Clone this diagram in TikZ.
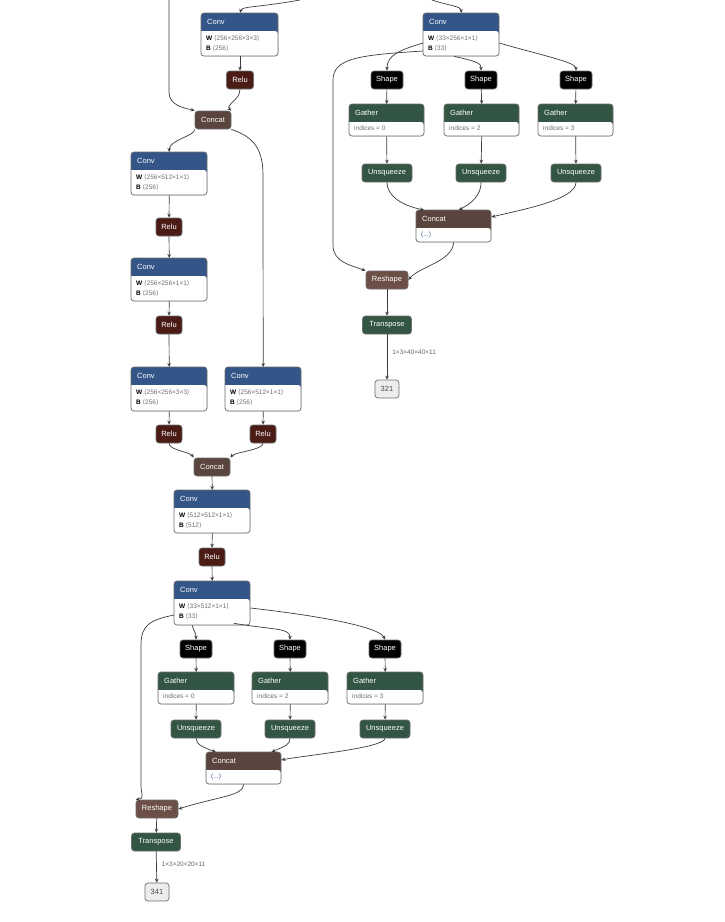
\documentclass[tikz,border=0pt]{standalone}
\usepackage{fontspec}
\setmainfont{Liberation Sans}
\newfontfamily\dvs{DejaVu Sans}
\usetikzlibrary{arrows.meta,calc}
\definecolor{cconv}{RGB}{51,85,136}
\definecolor{crelu}{RGB}{75,27,22}
\definecolor{ccat}{RGB}{90,68,62}
\definecolor{cresh}{RGB}{108,79,71}
\definecolor{cgreen}{RGB}{51,85,68}
\definecolor{cedge}{RGB}{60,60,60}
\definecolor{cdim}{RGB}{110,110,110}
\newcommand\angl[1]{\textcolor{cdim}{{\dvs⟨}#1{\dvs⟩}}}
% name x1 y1 x2 ymid y2 color title body
\newcommand\bignode[9]{%
  \fill[#7,rounded corners=3pt] (#2,#3) rectangle (#4,#6);
  \fill[white,rounded corners=3pt] (#2,#5) -- (#2,#6) -- (#4,#6) -- (#4,#5) [sharp corners] -- cycle;
  \draw[draw=cdim,line width=0.7pt,rounded corners=3pt] (#2,#3) rectangle (#4,#6);
  \node[inner sep=0pt,minimum width={#4-#2},minimum height={#6-#3},anchor=north west] (#1) at (#2,#3) {};
  \node[anchor=west,text=white,font=\fontsize{7.5}{9}\selectfont,inner sep=0pt] (#1t) at ({#2+6},{(#3+#5)/2}) {#8};
  \node[anchor=north west,align=left,font=\fontsize{6.5}{10}\selectfont,inner sep=0pt] (#1b) at ({#2+5},{#5+4}) {#9};
}
\newcommand\convbody[2]{\textbf{W}\ \angl{#1}\\\textbf{B}\ \angl{#2}}
\tikzset{
  op/.style={rounded corners=3pt,draw=cdim,line width=0.7pt,text=white,minimum height=18pt,inner sep=0pt,font=\fontsize{7.5}{9}\selectfont},
  outn/.style={rounded corners=3pt,draw=cdim,line width=0.7pt,fill=black!7,text=black!70,minimum height=18pt,minimum width=24pt,inner sep=0pt,font=\fontsize{7.5}{9}\selectfont},
  e/.style={draw=cedge,line width=0.7pt,-{Stealth[length=4pt,width=3.5pt]}},
  lbl/.style={font=\fontsize{6.5}{8}\selectfont,text=black!60,anchor=west,inner sep=0pt}
}
\begin{document}
\begin{tikzpicture}[x=1pt,y=-1pt]
\useasboundingbox[fill=white] (0,0) rectangle (725,922);
% ---- left column
\bignode{cA}{201}{13}{278}{31}{56}{cconv}{Conv}{\convbody{256×256×3×3}{256}}
\node[op,fill=crelu,minimum width=27pt] (r1) at (240,80) {Relu};
\node[op,fill=ccat,minimum width=36pt] (k1) at (213,120) {Concat};
\bignode{c2}{131}{152}{207}{170}{195}{cconv}{Conv}{\convbody{256×512×1×1}{256}}
\node[op,fill=crelu,minimum width=26pt] (r2) at (169,227) {Relu};
\bignode{c3}{131}{258}{207}{276}{301}{cconv}{Conv}{\convbody{256×256×1×1}{256}}
\node[op,fill=crelu,minimum width=26pt] (r3) at (169,325) {Relu};
\bignode{c4}{131}{367}{207}{385}{411}{cconv}{Conv}{\convbody{256×256×3×3}{256}}
\bignode{c5}{225}{367}{301}{385}{411}{cconv}{Conv}{\convbody{256×512×1×1}{256}}
\node[op,fill=crelu,minimum width=26pt] (r4) at (169,434) {Relu};
\node[op,fill=crelu,minimum width=26pt] (r5) at (263,434) {Relu};
\node[op,fill=ccat,minimum width=36pt] (k2) at (212,467) {Concat};
\bignode{c6}{174}{490}{250}{508}{533}{cconv}{Conv}{\convbody{512×512×1×1}{512}}
\node[op,fill=crelu,minimum width=26pt] (r6) at (212,557) {Relu};
\bignode{c7}{174}{581}{250}{599}{625}{cconv}{Conv}{\convbody{33×512×1×1}{33}}
\node[op,fill=black,minimum width=32pt] (s1) at (196,649) {Shape};
\node[op,fill=black,minimum width=32pt] (s2) at (290,649) {Shape};
\node[op,fill=black,minimum width=32pt] (s3) at (385,649) {Shape};
\bignode{g1}{158}{672}{234}{690}{704}{cgreen}{Gather}{\textcolor{cdim}{indices = 0}}
\bignode{g2}{252}{672}{328}{690}{704}{cgreen}{Gather}{\textcolor{cdim}{indices = 2}}
\bignode{g3}{347}{672}{423}{690}{704}{cgreen}{Gather}{\textcolor{cdim}{indices = 3}}
\node[op,fill=cgreen,minimum width=50pt] (u1) at (196,729) {Unsqueeze};
\node[op,fill=cgreen,minimum width=50pt] (u2) at (290,729) {Unsqueeze};
\node[op,fill=cgreen,minimum width=50pt] (u3) at (385,729) {Unsqueeze};
\bignode{k3}{206}{752}{281}{770}{784}{ccat}{Concat}{\textcolor{cconv}{(...)}}
\node[op,fill=cresh,minimum width=42pt] (rs1) at (157,809) {Reshape};
\node[op,fill=cgreen,minimum width=49pt] (t1) at (156,842) {Transpose};
\node[outn] (o1) at (157,892) {341};
% ---- right column
\bignode{cR}{423}{13}{499}{31}{56}{cconv}{Conv}{\convbody{33×256×1×1}{33}}
\node[op,fill=black,minimum width=32pt] (sr1) at (387,80) {Shape};
\node[op,fill=black,minimum width=32pt] (sr2) at (481,80) {Shape};
\node[op,fill=black,minimum width=32pt] (sr3) at (576,80) {Shape};
\bignode{gr1}{349}{104}{424}{122}{136}{cgreen}{Gather}{\textcolor{cdim}{indices = 0}}
\bignode{gr2}{444}{104}{519}{122}{136}{cgreen}{Gather}{\textcolor{cdim}{indices = 2}}
\bignode{gr3}{538}{104}{613}{122}{136}{cgreen}{Gather}{\textcolor{cdim}{indices = 3}}
\node[op,fill=cgreen,minimum width=50pt] (ur1) at (387,173) {Unsqueeze};
\node[op,fill=cgreen,minimum width=50pt] (ur2) at (481,173) {Unsqueeze};
\node[op,fill=cgreen,minimum width=50pt] (ur3) at (576,173) {Unsqueeze};
\bignode{kR}{416}{210}{491}{228}{242}{ccat}{Concat}{\textcolor{cconv}{(...)}}
\node[op,fill=cresh,minimum width=42pt] (rs2) at (387,280) {Reshape};
\node[op,fill=cgreen,minimum width=49pt] (t2) at (387,325) {Transpose};
\node[outn] (o2) at (387,389) {321};
% ---- free ends
\coordinate (inA) at (169,0);
\coordinate (inB) at (300,0);
\coordinate (inC) at (432,0);
% ---- edges left
\draw[e] (inB) .. controls (255,8) and (242,6) .. (cA.north -| r1);
\draw[e] (inA) -- (169,92) .. controls (169,106) and (185,108) .. (k1.north west);
\draw[e] (cA.south -| r1) -- (r1);
\draw[e] (r1.south) .. controls (240,100) and (225,105) .. (k1.north east);
\draw[e] (k1.south west) .. controls (195,136) and (169,140) .. (c2.north);
\draw[e] (k1.south east) .. controls (250,136) and (263,145) .. (263,175) -- (c5.north);
\draw[e] (c2.south) -- (r2);
\draw[e] (r2) -- (c3.north);
\draw[e] (c3.south) -- (r3);
\draw[e] (r3) -- (c4.north);
\draw[e] (c4.south) -- (r4);
\draw[e] (c5.south) -- (r5);
\draw[e] (r4.south) .. controls (169,450) and (190,452) .. (k2.north west);
\draw[e] (r5.south) .. controls (263,450) and (235,452) .. (k2.north east);
\draw[e] (k2) -- (c6.north);
\draw[e] (c6.south) -- (r6);
\draw[e] (r6) -- (c7.north);
\draw[e] ($(c7.south)+(-20,0)$) .. controls (193,630) and (196,632) .. (s1.north);
\draw[e] ($(c7.south)+(22,-2)$) .. controls (275,630) and (290,628) .. (s2.north);
\draw[e] ($(c7.north east)+(0,27)$) .. controls (330,617) and (380,628) .. (s3.north);
\draw[e] ($(c7.north west)+(0,34)$) .. controls (150,620) and (141,625) .. (141,645) -- (141,785) .. controls (141,795) and (145,798) .. (rs1.north west);
\foreach \i in {1,2,3}{\draw[e] (s\i) -- (g\i.north); \draw[e] (g\i.south) -- (u\i);}
\draw[e] (u1.south) .. controls (196,745) and (205,748) .. ($(k3.north west)+(10,0)$);
\draw[e] (u2.south) .. controls (290,745) and (285,746) .. ($(k3.north east)+(-10,0)$);
\draw[e] (u3.south) .. controls (385,748) and (300,756) .. ($(k3.north east)+(0,8)$);
\draw[e] ($(k3.south)+(0,0)$) .. controls (243,796) and (220,796) .. (rs1.east);
\draw[e] (rs1) -- (t1);
\draw[e] (t1) -- (o1) node[lbl,pos=0.4,xshift=5pt] {1×3×20×20×11};
% ---- edges right
\draw[e] (inC) .. controls (450,6) and (461,6) .. (cR.north);
\draw[e] ($(cR.north west)+(0,30)$) .. controls (400,50) and (387,55) .. (sr1.north);
\draw[e] ($(cR.south)+(-7,0)$) .. controls (480,62) and (481,64) .. (sr2.north);
\draw[e] ($(cR.north east)+(0,30)$) .. controls (540,55) and (576,62) .. (sr3.north);
\draw[e] ($(cR.north west)+(0,38)$) .. controls (360,55) and (333,58) .. (333,80) -- (333,245) .. controls (333,262) and (350,265) .. (rs2.north west);
\foreach \i in {1,2,3}{\draw[e] (sr\i) -- (gr\i.north); \draw[e] (gr\i.south) -- (ur\i);}
\draw[e] (ur1.south) .. controls (387,195) and (400,205) .. ($(kR.north west)+(8,0)$);
\draw[e] (ur2.south) .. controls (481,190) and (478,200) .. ($(kR.north)+(5,0)$);
\draw[e] (ur3.south) .. controls (576,200) and (520,210) .. ($(kR.north east)+(0,7)$);
\draw[e] (kR.south) .. controls (452,262) and (420,266) .. (rs2.east);
\draw[e] (rs2) -- (t2);
\draw[e] (t2) -- (o2) node[lbl,pos=0.4,xshift=5pt] {1×3×40×40×11};
\end{tikzpicture}
\end{document}
